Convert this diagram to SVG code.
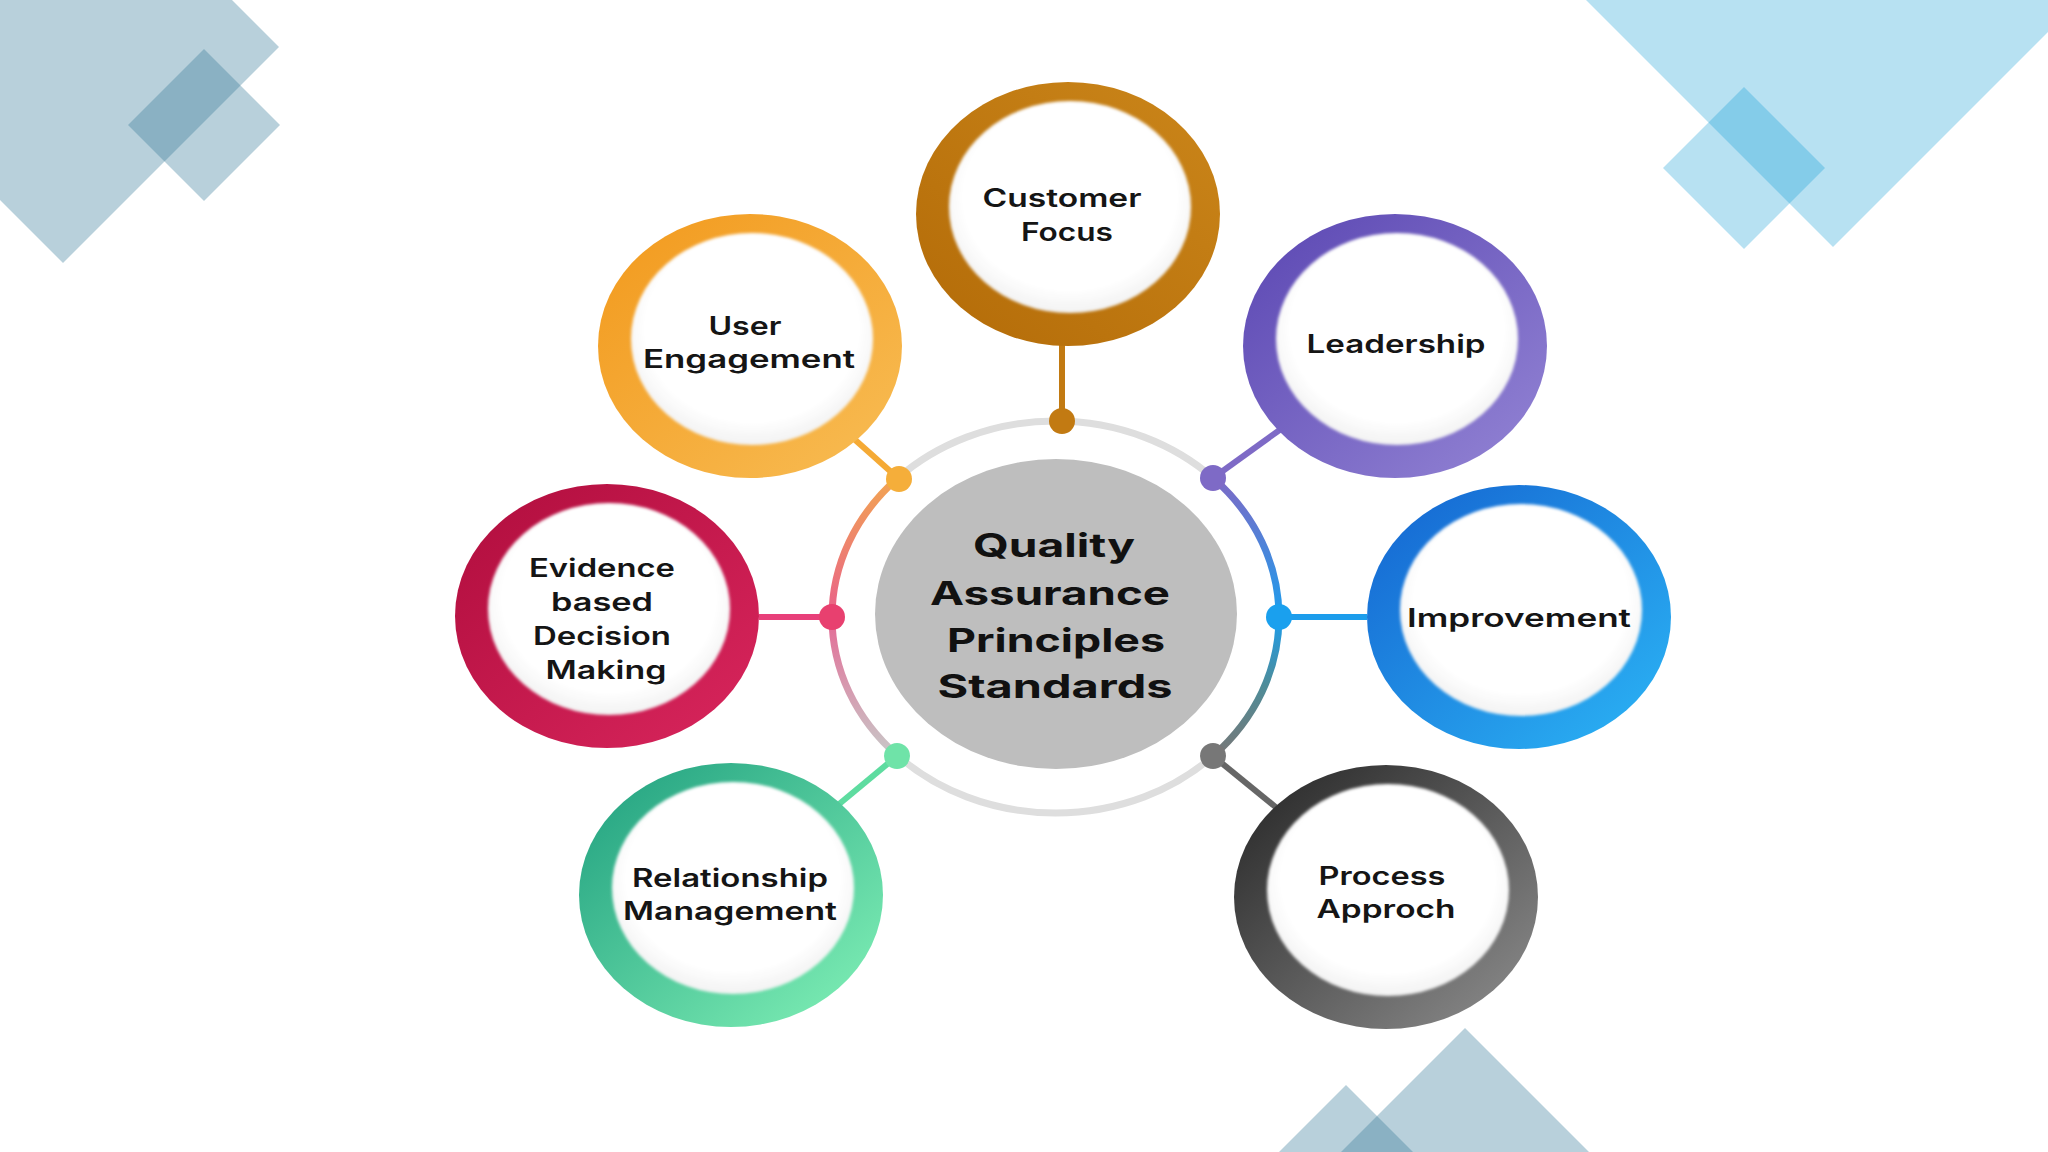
<svg xmlns="http://www.w3.org/2000/svg" width="2048" height="1152" viewBox="0 0 2048 1152">
<style>
.bgA{fill:#357799;opacity:0.35}
.bgB{fill:#0F9DD3;opacity:0.3}
.inner{fill:url(#gInner);filter:url(#soft)}
.t{font-family:Inter,"Noto Sans","DejaVu Sans",sans-serif;font-weight:600;font-size:25px;fill:#151515;text-anchor:middle}
.c{font-family:Inter,"Noto Sans","DejaVu Sans",sans-serif;font-weight:700;font-size:33px;fill:#111;text-anchor:middle}
.seg{fill:none;stroke-width:7;stroke-linecap:round}
.con{fill:none;stroke-width:6}
</style>
<defs>
<filter id="soft" x="-10%" y="-10%" width="120%" height="120%"><feGaussianBlur stdDeviation="1.6"/></filter>
<radialGradient id="gInner" cx="0.5" cy="0.45" r="0.55"><stop offset="0.8" stop-color="#FFFFFF"/><stop offset="1" stop-color="#F2F2F2"/></radialGradient>
<linearGradient id="gCustomer" x1="0" y1="1" x2="1" y2="0"><stop offset="0" stop-color="#B36B08"/><stop offset="1" stop-color="#CB861A"/></linearGradient>
<linearGradient id="gLeader" x1="0" y1="0" x2="1" y2="1"><stop offset="0" stop-color="#5A46B2"/><stop offset="1" stop-color="#9485D5"/></linearGradient>
<linearGradient id="gImprove" x1="0" y1="0" x2="1" y2="1"><stop offset="0" stop-color="#1463D0"/><stop offset="1" stop-color="#2CB6F6"/></linearGradient>
<linearGradient id="gProcess" x1="0" y1="0" x2="1" y2="1"><stop offset="0" stop-color="#232323"/><stop offset="1" stop-color="#909090"/></linearGradient>
<linearGradient id="gRelation" x1="0" y1="0" x2="1" y2="1"><stop offset="0" stop-color="#1E9E7E"/><stop offset="1" stop-color="#84F3B8"/></linearGradient>
<linearGradient id="gEvidence" x1="0" y1="0" x2="1" y2="1"><stop offset="0" stop-color="#B00D3D"/><stop offset="1" stop-color="#D9265D"/></linearGradient>
<linearGradient id="gUser" x1="0" y1="0" x2="1" y2="1"><stop offset="0" stop-color="#F2991C"/><stop offset="1" stop-color="#F8BD55"/></linearGradient>
<linearGradient id="sUL" gradientUnits="userSpaceOnUse" x1="0" y1="478" x2="0" y2="617"><stop offset="0" stop-color="#F2A552"/><stop offset="1" stop-color="#E9608A"/></linearGradient>
<linearGradient id="sLL" gradientUnits="userSpaceOnUse" x1="0" y1="617" x2="0" y2="756"><stop offset="0" stop-color="#E46A95"/><stop offset="1" stop-color="#C8C8C8"/></linearGradient>
<linearGradient id="sUR" gradientUnits="userSpaceOnUse" x1="0" y1="478" x2="0" y2="617"><stop offset="0" stop-color="#7E6AC6"/><stop offset="1" stop-color="#1C9DEC"/></linearGradient>
<linearGradient id="sLR" gradientUnits="userSpaceOnUse" x1="0" y1="617" x2="0" y2="756"><stop offset="0" stop-color="#1C9DEC"/><stop offset="0.5" stop-color="#4F8C98"/><stop offset="1" stop-color="#777777"/></linearGradient>
</defs>
<rect width="2048" height="1152" fill="#FFFFFF"/>
<g id="background">
<polygon class="bgA" points="63,-169 279,47 63,263 -153,47"/>
<polygon class="bgA" points="204,49 280,125 204,201 128,125"/>
<polygon class="bgB" points="1833,-257 2085,-5 1833,247 1581,-5"/>
<polygon class="bgB" points="1744,87 1825,168 1744,249 1663,168"/>
<polygon class="bgA" points="1465,1028 1665,1228 1465,1428 1265,1228"/>
<polygon class="bgA" points="1346,1085 1446,1185 1346,1285 1246,1185"/>
</g>
<g id="connectors">
<path class="seg" stroke="#DEDEDE" d="M1213.5,478.4 A223.5,196 0 0 0 897.5,478.4"/>
<path class="seg" stroke="#DEDEDE" d="M897.5,755.6 A223.5,196 0 0 0 1213.5,755.6"/>
<path class="seg" stroke="url(#sUL)" d="M897.5,478.4 A223.5,196 0 0 0 832,617"/>
<path class="seg" stroke="url(#sLL)" d="M832,617 A223.5,196 0 0 0 897.5,755.6"/>
<path class="seg" stroke="url(#sUR)" d="M1279,617 A223.5,196 0 0 0 1213.5,478.4"/>
<path class="seg" stroke="url(#sLR)" d="M1213.5,755.6 A223.5,196 0 0 0 1279,617"/>
<line class="con" stroke="#C27A12" x1="1062" y1="340" x2="1062" y2="421"/>
<line class="con" stroke="#F5AA35" x1="853" y1="438" x2="899" y2="479"/>
<line class="con" stroke="#7E6AC6" x1="1281" y1="429" x2="1213" y2="478"/>
<line class="con" stroke="#1C9DEC" x1="1367" y1="617" x2="1279" y2="617"/>
<line class="con" stroke="#666666" x1="1278" y1="809" x2="1213" y2="756"/>
<line class="con" stroke="#5EDCA0" x1="838" y1="805" x2="897" y2="756"/>
<line class="con" stroke="#E8407A" x1="759" y1="617" x2="832" y2="617"/>
<circle cx="1062" cy="421" r="13" fill="#C27A12"/>
<circle cx="899" cy="479" r="13" fill="#F5AE3A"/>
<circle cx="1213" cy="478" r="13" fill="#7E6AC6"/>
<circle cx="1279" cy="617" r="13" fill="#1AA0EE"/>
<circle cx="1213" cy="756" r="13" fill="#777777"/>
<circle cx="897" cy="756" r="13" fill="#6FE3A8"/>
<circle cx="832" cy="617" r="13" fill="#E8406F"/>
</g>
<g id="center">
<ellipse cx="1056" cy="614" rx="181" ry="155" fill="#BEBEBE"/>
<text class="c" x="1054" y="557" textLength="162" lengthAdjust="spacingAndGlyphs">Quality</text>
<text class="c" x="1050" y="605" textLength="240" lengthAdjust="spacingAndGlyphs">Assurance</text>
<text class="c" x="1056" y="652" textLength="218" lengthAdjust="spacingAndGlyphs">Principles</text>
<text class="c" x="1055" y="698" textLength="235" lengthAdjust="spacingAndGlyphs">Standards</text>
</g>
<g id="customer-focus">
<ellipse cx="1068" cy="214" rx="152" ry="132" fill="url(#gCustomer)"/>
<ellipse class="inner" cx="1070" cy="207" rx="121" ry="106"/>
<text class="t" x="1062" y="207" textLength="159" lengthAdjust="spacingAndGlyphs">Customer</text>
<text class="t" x="1067" y="241" textLength="92" lengthAdjust="spacingAndGlyphs">Focus</text>
</g>
<g id="user-engagement">
<ellipse cx="750" cy="346" rx="152" ry="132" fill="url(#gUser)"/>
<ellipse class="inner" cx="752" cy="339" rx="121" ry="106"/>
<text class="t" x="745" y="335" textLength="73" lengthAdjust="spacingAndGlyphs">User</text>
<text class="t" x="749" y="368" textLength="212" lengthAdjust="spacingAndGlyphs">Engagement</text>
</g>
<g id="leadership">
<ellipse cx="1395" cy="346" rx="152" ry="132" fill="url(#gLeader)"/>
<ellipse class="inner" cx="1397" cy="339" rx="121" ry="106"/>
<text class="t" x="1396" y="353" textLength="179" lengthAdjust="spacingAndGlyphs">Leadership</text>
</g>
<g id="improvement">
<ellipse cx="1519" cy="617" rx="152" ry="132" fill="url(#gImprove)"/>
<ellipse class="inner" cx="1521" cy="610" rx="121" ry="106"/>
<text class="t" x="1519" y="627" textLength="224" lengthAdjust="spacingAndGlyphs">Improvement</text>
</g>
<g id="process-approch">
<ellipse cx="1386" cy="897" rx="152" ry="132" fill="url(#gProcess)"/>
<ellipse class="inner" cx="1388" cy="890" rx="121" ry="106"/>
<text class="t" x="1382" y="885" textLength="127" lengthAdjust="spacingAndGlyphs">Process</text>
<text class="t" x="1386" y="918" textLength="139" lengthAdjust="spacingAndGlyphs">Approch</text>
</g>
<g id="relationship-management">
<ellipse cx="731" cy="895" rx="152" ry="132" fill="url(#gRelation)"/>
<ellipse class="inner" cx="733" cy="888" rx="121" ry="106"/>
<text class="t" x="730" y="887" textLength="196" lengthAdjust="spacingAndGlyphs">Relationship</text>
<text class="t" x="730" y="920" textLength="214" lengthAdjust="spacingAndGlyphs">Management</text>
</g>
<g id="evidence-based-decision-making">
<ellipse cx="607" cy="616" rx="152" ry="132" fill="url(#gEvidence)"/>
<ellipse class="inner" cx="609" cy="609" rx="121" ry="106"/>
<text class="t" x="602" y="577" textLength="146" lengthAdjust="spacingAndGlyphs">Evidence</text>
<text class="t" x="602" y="611" textLength="102" lengthAdjust="spacingAndGlyphs">based</text>
<text class="t" x="602" y="645" textLength="138" lengthAdjust="spacingAndGlyphs">Decision</text>
<text class="t" x="606" y="679" textLength="121" lengthAdjust="spacingAndGlyphs">Making</text>
</g>
</svg>
